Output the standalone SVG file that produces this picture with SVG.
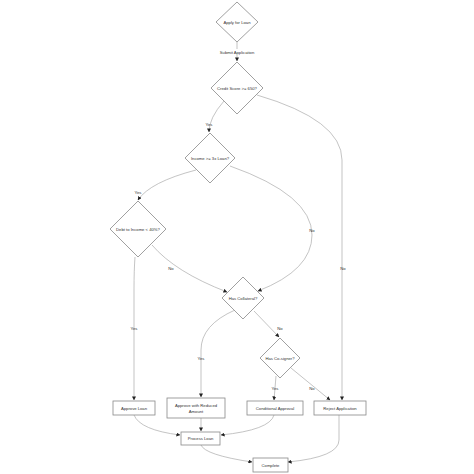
<svg xmlns="http://www.w3.org/2000/svg" width="474" height="474" viewBox="0 0 474 474">
<defs>
<marker id="arr" viewBox="0 0 10 10" refX="9" refY="5" markerWidth="4" markerHeight="4" orient="auto" markerUnits="userSpaceOnUse">
<path d="M0,0 L10,5 L0,10 z" fill="#222"/>
</marker>
</defs>
<style>
.n{fill:#fff;stroke:#888;stroke-width:0.8}
.t{font-family:"Liberation Sans",Arial,sans-serif;font-size:4.2px;fill:#333;text-anchor:middle;dominant-baseline:central}
.e{fill:none;stroke:#aaa;stroke-width:0.7;marker-end:url(#arr)}
.lb{fill:#fff}
</style>
<rect width="474" height="474" fill="#fff"/>
<g id="connectors">
<path class="e" d="M237,42 L237,61"/>
<path class="e" d="M224,101 Q209,118 209,132"/>
<path class="e" d="M257,95 Q342,120 342,160 L342,400"/>
<path class="e" d="M196,170 Q150,182 138,200"/>
<path class="e" d="M230,166 Q312,195 312,235 Q312,270 258,291"/>
<path class="e" d="M152,245 Q175,272 227,292"/>
<path class="e" d="M135,257 Q134,270 134,290 L134,400"/>
<path class="e" d="M235,310 Q201,325 201,350 L201,397"/>
<path class="e" d="M254,311 L279,337"/>
<path class="e" d="M276,376 L274,400"/>
<path class="e" d="M291,368 L330,400"/>
<path class="e" d="M134,415 Q140,430 180,435"/>
<path class="e" d="M201,418 L201,431"/>
<path class="e" d="M274,415 Q270,430 221,435"/>
<path class="e" d="M201,445 Q205,455 252,462"/>
<path class="e" d="M339,415 L339,440 Q339,457 288,462"/>
</g>
<g id="edge-labels">
<rect class="lb" x="219" y="49" width="36" height="6"/><text class="t" x="237" y="52">Submit Application</text>
<text class="t" x="209" y="124">Yes</text>
<text class="t" x="343" y="268">No</text>
<text class="t" x="138" y="192">Yes</text>
<text class="t" x="312" y="230">No</text>
<text class="t" x="171" y="268">No</text>
<text class="t" x="134" y="328">Yes</text>
<text class="t" x="201" y="358">Yes</text>
<text class="t" x="280" y="328">No</text>
<text class="t" x="275" y="388">Yes</text>
<text class="t" x="312" y="388">No</text>
</g>
<g id="apply"><polygon class="n" points="237,2 258,22 237,42 216,22"/><text class="t" x="237" y="22">Apply for Loan</text></g>
<g id="credit"><polygon class="n" points="237,62 263,88 237,114 211,88"/><text class="t" x="237" y="88">Credit Score &gt;= 650?</text></g>
<g id="income"><polygon class="n" points="210,133 235,158 210,183 185,158"/><text class="t" x="210" y="158">Income &gt;= 3x Loan?</text></g>
<g id="debt"><polygon class="n" points="138,201 166,229 138,257 110,229"/><text class="t" x="138" y="229">Debt to Income &lt; 40%?</text></g>
<g id="collateral"><polygon class="n" points="243,277 264,298 243,319 222,298"/><text class="t" x="243" y="298">Has Collateral?</text></g>
<g id="cosigner"><polygon class="n" points="280,338 300,358 280,378 260,358"/><text class="t" x="280" y="358">Has Co-signer?</text></g>
<g id="approve"><rect class="n" x="113" y="401" width="42" height="14"/><text class="t" x="134" y="408">Approve Loan</text></g>
<g id="reduced"><rect class="n" x="167" y="398" width="58" height="20"/><text class="t" x="196" y="405">Approve with Reduced</text><text class="t" x="196" y="411">Amount</text></g>
<g id="conditional"><rect class="n" x="247" y="401" width="56" height="14"/><text class="t" x="275" y="408">Conditional Approval</text></g>
<g id="reject"><rect class="n" x="314" y="401" width="52" height="14"/><text class="t" x="340" y="408">Reject Application</text></g>
<g id="process"><rect class="n" x="181" y="432" width="39" height="13"/><text class="t" x="200.5" y="438.5">Process Loan</text></g>
<g id="complete"><rect class="n" x="253" y="458" width="35" height="14"/><text class="t" x="270.5" y="465">Complete</text></g>
</svg>
